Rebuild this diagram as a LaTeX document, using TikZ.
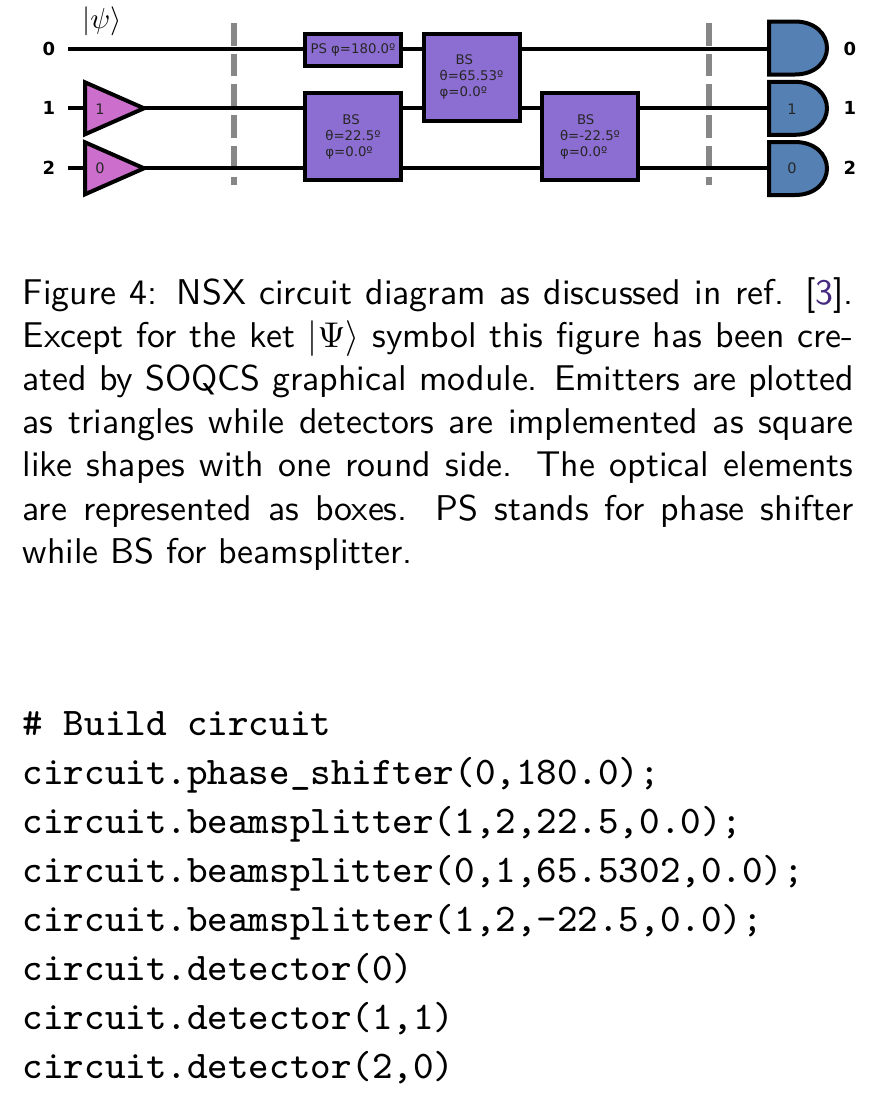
\documentclass[tikz,border=0pt]{standalone}
\usepackage{fontspec}
\usepackage{amsmath}
\usepackage{xcolor}
\usetikzlibrary{backgrounds}
\newfontfamily\plotfont{DejaVu Sans}
\definecolor{boxfill}{HTML}{8C6ED2}
\definecolor{emitfill}{HTML}{CC6FCC}
\definecolor{detfill}{HTML}{5580B3}
\definecolor{reflink}{HTML}{46287F}
\tikzset{
	wire/.style = {line width=4.2pt, black},
	barrier/.style = {line width=6pt, color=black!47, dash pattern=on 22.7pt off 8pt},
	optbox/.style = {rectangle, draw=black, fill=boxfill, line width=4pt, inner sep=0pt,
		font=\plotfont\fontsize{13.3}{16}\selectfont, text=black!85},
	ps_box/.style = {optbox, minimum width=96pt, minimum height=32pt},
	bs_box/.style = {optbox, align=left, minimum width=96pt, minimum height=87pt},
	emit_shape/.style = {draw=black, fill=emitfill, line width=4pt},
	det_shape/.style = {draw=black, fill=detfill, line width=4pt},
	inner_lbl/.style = {inner sep=0pt, font=\plotfont\fontsize{14.5}{16}\selectfont, text=black!85},
	mode_lbl/.style = {inner sep=0pt, font=\plotfont\bfseries\fontsize{18}{20}\selectfont},
	caption/.style = {anchor=north west, inner sep=0pt, scale=3.58, text width=232.1pt, align=justify,
		font=\sffamily\fontsize{10}{12.07}\selectfont},
	listing/.style = {anchor=north west, inner sep=0pt, scale=4.35, align=left,
		font=\ttfamily\fontsize{9}{11.24}\selectfont}
}
% name, height of the middle
\newcommand{\emitter}[2]{
	\draw[emit_shape] (85,#2-26) -- (144,#2) -- (85,#2+26) -- cycle;
	\coordinate (#1) at (144,#2);
}
\newcommand{\detector}[2]{
	\draw[det_shape] (769,#2-26.5) -- (795,#2-26.5)
		.. controls (815,#2-26.5) and (827,#2-14) .. (827,#2)
		.. controls (827,#2+14) and (815,#2+26.5) .. (795,#2+26.5)
		-- (769,#2+26.5) -- cycle;
	\coordinate (#1) at (769,#2);
}

\begin{document}
\begin{tikzpicture}[x=1pt,y=-1pt]
\useasboundingbox (0,0) rectangle (874,1104);

\node [mode_lbl] (in0) at (49,49) {0};
\node [mode_lbl] (in1) at (49,108) {1};
\node [mode_lbl] (in2) at (49,167.5) {2};
\node [mode_lbl] (out0) at (850,49) {0};
\node [mode_lbl] (out1) at (850,108) {1};
\node [mode_lbl] (out2) at (850,167.5) {2};
\coordinate (wire0) at (68,49.3);
\coordinate (wire1) at (68,108.3);
\coordinate (wire2) at (68,167.7);
\node [inner sep=0pt, scale=2.9] (ket) at (102,21) {$|\psi\rangle$};

% emitters and detectors
\emitter{em1}{108.3}
\emitter{em2}{168.3}
\detector{det0}{48}
\detector{det1}{108.3}
\detector{det2}{168.5}
\node [inner_lbl] (em1_lbl) at (100,109) {1};
\node [inner_lbl] (em2_lbl) at (100,168) {0};
\node [inner_lbl] (det1_lbl) at (792,109) {1};
\node [inner_lbl] (det2_lbl) at (792,168) {0};

% optical elements
\node [ps_box] (ps) at (353,50) {PS φ=180.0º};
\node [bs_box] (bs1) at (353,136.5) {\hspace*{17pt}BS\\θ=22.5º\\φ=0.0º};
\node [bs_box] (bs2) at (471.5,77) {\hspace*{16pt}BS\\θ=65.53º\\φ=0.0º};
\node [bs_box] (bs3) at (590,136.5) {\hspace*{17pt}BS\\θ=-22.5º\\φ=0.0º};

\begin{scope}[on background layer]
\coordinate (bar1_top) at (234,23);
\coordinate (bar1_bot) at (234,185);
\coordinate (bar2_top) at (709,23);
\coordinate (bar2_bot) at (709,185);
\draw [barrier] (bar1_top) -- (bar1_bot);
\draw [barrier] (bar2_top) -- (bar2_bot);
\draw [wire] (wire0) -- (ps.west |- wire0);
\draw [wire] (ps.east |- wire0) -- (bs2.west |- wire0);
\draw [wire] (bs2.east |- wire0) -- (det0 |- wire0);
\draw [wire] (wire1) -- (em1 |- wire1);
\draw [wire] (em1 |- wire1) -- (bs1.west |- wire1);
\draw [wire] (bs1.east |- wire1) -- (bs2.west |- wire1);
\draw [wire] (bs2.east |- wire1) -- (bs3.west |- wire1);
\draw [wire] (bs3.east |- wire1) -- (det1 |- wire1);
\draw [wire] (wire2) -- (em2 |- wire2);
\draw [wire] (em2 |- wire2) -- (bs1.west |- wire2);
\draw [wire] (bs1.east |- wire2) -- (bs3.west |- wire2);
\draw [wire] (bs3.east |- wire2) -- (det2 |- wire2);
\end{scope}

\node [caption] (figcap) at (22,276.5) {Figure 4: NSX circuit diagram as discussed in ref. [\textcolor{reflink}{3}].\linebreak
Except for the ket $|\Psi\rangle$ symbol this figure has been cre-\linebreak
ated by SOQCS graphical module. Emitters are plotted\linebreak
as triangles while detectors are implemented as square\linebreak
like shapes with one round side. The optical elements\linebreak
are represented as boxes. PS stands for phase shifter\linebreak
while BS for beamsplitter.};

\node [listing] (code) at (22,711) {\#~Build circuit\\
circuit.phase\_shifter(0,180.0);\\
circuit.beamsplitter(1,2,22.5,0.0);\\
circuit.beamsplitter(0,1,65.5302,0.0);\\
circuit.beamsplitter(1,2,-22.5,0.0);\\
circuit.detector(0)\\
circuit.detector(1,1)\\
circuit.detector(2,0)};
\end{tikzpicture}
\end{document}
